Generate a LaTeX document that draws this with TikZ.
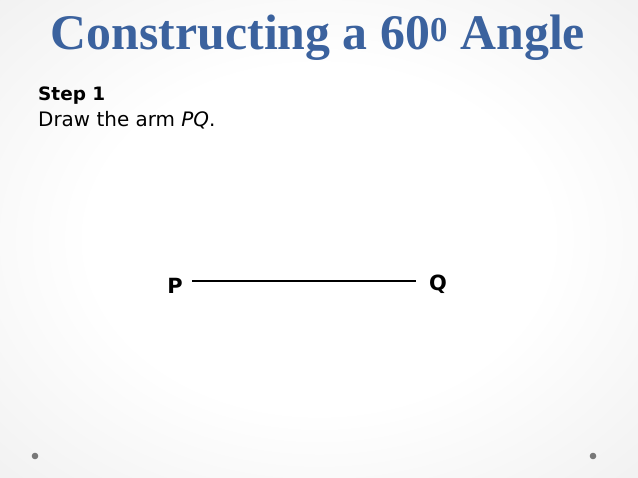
\documentclass[tikz,border=0pt]{standalone}
\usepackage{fontspec}
\setmainfont{Liberation Serif}
\newfontfamily\handfont{DejaVu Sans}
\definecolor{titleblue}{RGB}{59,98,158}
\definecolor{dotgray}{RGB}{120,120,120}
\pgfdeclareradialshading{slideback}{\pgfpoint{0bp}{0bp}}{%
    color(0bp)=(white); color(18bp)=(white); color(36bp)=(gray!11); color(50bp)=(gray!25)}
\begin{document}
\begin{tikzpicture}[x=1bp, y=-1bp]
    \shade[shading=slideback] (0, 0) rectangle (638, 478);
    \useasboundingbox (0, 0) rectangle (638, 478);
    \node[anchor=base, text=titleblue, font=\bfseries\fontsize{50}{58}\selectfont] (title) at (318, 50) {Constructing a 60\textsuperscript{0} Angle};
    \node[anchor=base west, inner sep=0pt, font=\handfont\bfseries\fontsize{18.5}{22}\selectfont] (step) at (38, 101) {Step 1};
    \node[anchor=base west, inner sep=0pt, font=\handfont\fontsize{20}{24}\selectfont] (task) at (38, 127) {Draw the arm \textit{PQ}.};
    \node[anchor=base, font=\handfont\bfseries\fontsize{21}{24}\selectfont] (P) at (175, 293) {P};
    \node[anchor=base, font=\handfont\bfseries\fontsize{21}{24}\selectfont] (Q) at (438, 290) {Q};
    \draw[line width=1.6bp] (192, 281) -- (416, 281);
    \fill[dotgray] (35, 456) circle (3.3) (593, 456) circle (3.3);
\end{tikzpicture}
\end{document}
